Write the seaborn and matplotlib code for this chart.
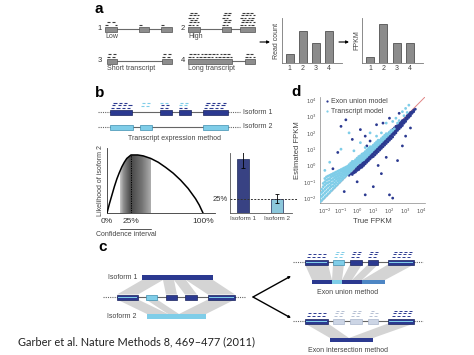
import numpy as np
import pandas as pd
import matplotlib
matplotlib.use("Agg")
import matplotlib.pyplot as plt
import matplotlib.transforms as mtransforms
from matplotlib.patches import Rectangle, Polygon
import seaborn as sns

# ------------------------------------------------------------------ data
genes = ["1", "2", "3", "4"]
read_counts = [9, 32, 20, 32]
fpkm_values = [6, 39, 20, 20]

ci_percent = [0, 2.6, 5.2, 7.7, 10.3, 12.9, 15.5, 18.0, 20.6, 25, 32.0, 37.8,
              45.6, 53.4, 61.1, 68.9, 76.7, 84.5, 92.2, 96.1, 100]
likelihood = [0, 0.165, 0.313, 0.456, 0.588, 0.698, 0.797, 0.874, 0.940, 1.0,
              1.0, 0.984, 0.940, 0.874, 0.786, 0.687, 0.566, 0.423, 0.247,
              0.137, 0]
ci_low, ci_high = 14, 46
ci_ticks = [0, 25, 100]
ci_labels = ["0%", "25%", "100%"]

isoforms = ["Isoform 1", "Isoform 2"]
isoform_share = [96, 25]
isoform_err = [16, 8]

# panel d: log10(True FPKM) columns and log10(Estimated FPKM) values
transcript_true = [-2.3, -2.2, -2.1, -2.0, -1.9, -1.8, -1.7, -1.6, -1.5, -1.4,
                   -1.3, -1.2, -1.1, -1.0, -0.9, -0.8, -0.7, -0.6, -0.5, -0.4,
                   -0.3, -0.2, -0.1, 0.0, 0.1, 0.2, 0.3, 0.4, 0.5, 0.6, 0.7,
                   0.8, 0.9, 1.0, 1.1, 1.2, 1.3, 1.4, 1.5, 1.6, 1.7, 1.8, 1.9,
                   2.0, 2.1, 2.2, 2.3]
transcript_est = [
    [-2.25, -2.0, -1.75], [-2.15, -1.9, -1.65, -1.45],
    [-2.05, -1.8, -1.55, -1.3, -1.1], [-1.95, -1.7, -1.45, -1.2, -1.0, -0.8],
    [-1.85, -1.6, -1.35, -1.1, -0.9, -0.7], [-1.75, -1.5, -1.25, -1.05, -0.85, -0.65],
    [-1.65, -1.4, -1.2, -1.0, -0.8, -0.6], [-1.55, -1.3, -1.1, -0.9, -0.7, -0.55],
    [-1.45, -1.25, -1.05, -0.85, -0.65, -0.5], [-1.35, -1.15, -0.95, -0.75, -0.6, -0.45],
    [-1.25, -1.05, -0.85, -0.7, -0.55, -0.4], [-1.15, -0.95, -0.8, -0.65, -0.5, -0.35],
    [-1.05, -0.9, -0.75, -0.6, -0.45, -0.3], [-0.95, -0.8, -0.65, -0.5, -0.35, -0.25],
    [-0.85, -0.7, -0.55, -0.4, -0.3, -0.2], [-0.75, -0.6, -0.45, -0.35, -0.25, -0.15],
    [-0.65, -0.5, -0.4, -0.3, -0.2, -0.1], [-0.55, -0.45, -0.35, -0.25, -0.15, -0.05],
    [-0.45, -0.35, -0.25, -0.15, -0.05, 0.05], [-0.35, -0.25, -0.15, -0.05, 0.05, 0.15],
    [-0.25, -0.15, -0.05, 0.05, 0.15, 0.25], [-0.15, -0.05, 0.05, 0.15, 0.25],
    [-0.05, 0.05, 0.15, 0.25, 0.35], [0.05, 0.15, 0.25, 0.35, 0.45],
    [0.15, 0.25, 0.35, 0.45, 0.55], [0.2, 0.3, 0.4, 0.5, 0.6],
    [0.3, 0.4, 0.5, 0.6, 0.7], [0.35, 0.45, 0.55, 0.65, 0.75],
    [0.45, 0.55, 0.65, 0.75, 0.85], [0.55, 0.65, 0.75, 0.85, 0.95],
    [0.65, 0.75, 0.85, 0.95, 1.05], [0.75, 0.85, 0.95, 1.05, 1.15],
    [0.85, 0.95, 1.05, 1.15], [0.95, 1.05, 1.15, 1.25], [1.05, 1.15, 1.25, 1.35],
    [1.15, 1.25, 1.35, 1.45], [1.25, 1.35, 1.45, 1.55], [1.35, 1.45, 1.55],
    [1.45, 1.55, 1.65], [1.55, 1.65, 1.75], [1.65, 1.75, 1.85], [1.75, 1.85, 1.95],
    [1.85, 1.95], [1.95, 2.05], [2.05, 2.15], [2.15], [2.25]]
transcript_out_true = [-0.5, 0.2, -1.0, 0.8, 1.2, -0.2, 0.5, 2.4, 2.8, 3.0, 1.8,
                       1.5, 2.2, -1.7, -2.0, 3.2, 2.6, 2.9, 2.5, 3.1]
transcript_out_est = [2.0, 1.4, 1.0, 2.0, 1.8, 0.9, 1.1, 2.9, 3.3, 3.5, 2.6,
                      2.0, 2.7, 0.2, -0.3, 3.7, 2.75, 3.05, 2.6, 3.25]

union_true = [-0.5, -0.4, -0.3, -0.2, -0.1, 0.0, 0.1, 0.2, 0.3, 0.4, 0.5, 0.6,
              0.7, 0.8, 0.9, 1.0, 1.1, 1.2, 1.3, 1.4, 1.5, 1.6, 1.7, 1.8, 1.9,
              2.0, 2.1, 2.2, 2.3, 2.4, 2.5, 2.6, 2.7, 2.8, 2.9, 3.0, 3.1, 3.2,
              3.3, 3.4, 3.5, 3.6]
union_est = [
    [-0.6], [-0.5], [-0.55, -0.45], [-0.45, -0.35], [-0.4, -0.3, -0.2],
    [-0.3, -0.2, -0.1], [-0.25, -0.15, -0.05], [-0.15, -0.05, 0.05],
    [-0.1, 0.0, 0.1, 0.2], [0.0, 0.1, 0.2, 0.3], [0.1, 0.2, 0.3, 0.4],
    [0.2, 0.3, 0.4, 0.5], [0.3, 0.4, 0.5, 0.6], [0.4, 0.5, 0.6, 0.7],
    [0.5, 0.6, 0.7, 0.8], [0.55, 0.7, 0.8, 0.9], [0.65, 0.8, 0.9, 1.0, 1.1],
    [0.75, 0.9, 1.0, 1.1, 1.2], [0.85, 1.0, 1.1, 1.2, 1.3],
    [0.95, 1.1, 1.2, 1.3, 1.4], [1.05, 1.2, 1.3, 1.4, 1.5],
    [1.15, 1.3, 1.4, 1.5, 1.6], [1.25, 1.4, 1.5, 1.6, 1.7],
    [1.35, 1.5, 1.6, 1.7, 1.8], [1.45, 1.6, 1.7, 1.8, 1.9],
    [1.55, 1.7, 1.8, 1.9, 2.0], [1.65, 1.8, 1.9, 2.0, 2.1],
    [1.75, 1.9, 2.0, 2.1, 2.2], [1.9, 2.0, 2.1, 2.2, 2.3],
    [2.0, 2.1, 2.2, 2.3, 2.4], [2.15, 2.25, 2.35, 2.45], [2.25, 2.35, 2.45, 2.55],
    [2.35, 2.45, 2.55, 2.65], [2.45, 2.55, 2.65, 2.75], [2.6, 2.7, 2.8],
    [2.7, 2.8, 2.9], [2.85, 2.95, 3.05], [2.95, 3.05, 3.15], [3.05, 3.15, 3.25],
    [3.2, 3.3], [3.3, 3.4], [3.45]]
union_out_true = [-1.5, -1.0, -0.7, -0.3, 0.2, 0.5, -1.2, 0.8, 1.2, 1.0, 1.5,
                  2.0, 2.5, 2.2, 0.5, 3.0, 2.8, 1.8, 0.0, -0.8, 3.3, 1.3, 2.6,
                  1.6, 2.0, 0.6]
union_out_est = [-0.2, 2.4, 2.8, 1.6, 2.2, 1.8, 0.8, 1.5, 2.5, -1.3, -0.5,
                 -1.8, 0.3, -2.0, -1.8, 1.8, 1.2, 0.5, -1.0, -1.6, 2.3, 0.0,
                 3.2, 2.6, 2.9, 1.2]
fpkm_decades = [-2, -1, 0, 1, 2, 3, 4]

# ------------------------------------------------------------------ style
sns.set_style("white")
plt.rcParams["font.family"] = ["Liberation Sans", "DejaVu Sans"]

W, H = 474, 355
DARK = "#2b3990"
DARK_E = "#18225e"
LIGHT = "#7fcde8"
LIGHT_E = "#3f8fb0"
GRAYTXT = "#444444"

fig = plt.figure(figsize=(W / 100, H / 100), dpi=100)
canvas = fig.add_axes([0, 0, 1, 1])
canvas.set_xlim(0, W)
canvas.set_ylim(H, 0)
canvas.axis("off")


def px_axes(l, t, r, b):
    return fig.add_axes([l / W, 1 - b / H, (r - l) / W, (b - t) / H])


def exon(x0, x1, yc, fc, ec, h=5, lw=0.5, z=3):
    canvas.add_patch(Rectangle((x0, yc - h / 2), x1 - x0, h, fc=fc, ec=ec,
                               lw=lw, zorder=z))


def two_tone(x0, x1, yc, h=5):
    exon(x0, x1, yc, DARK, DARK_E, h=h)
    exon(x0 + 1.2, x1 - 1.2, yc + 0.4, LIGHT, "none", h=1.6, lw=0, z=4)


def gene_line(x0, x1, yc, d0=None, d1=None, color="#666666"):
    canvas.plot([x0, x1], [yc, yc], color=color, lw=0.8, zorder=2)
    if d0 is not None:
        canvas.plot([d0, x0], [yc, yc], color=color, lw=0.8, ls=(0, (1, 1)), zorder=2)
    if d1 is not None:
        canvas.plot([x1, d1], [yc, yc], color=color, lw=0.8, ls=(0, (1, 1)), zorder=2)


def reads(x0, x1, ybase, rows, color, seg=3.0, gap=1.8, spacing=2.4, lw=0.8):
    for r in range(rows):
        y = ybase - r * spacing
        xs = x0 + (r % 3) * 1.2
        while xs + seg <= x1 + 0.5:
            canvas.plot([xs, xs + seg], [y, y], color=color, lw=lw,
                        solid_capstyle="butt", zorder=3)
            xs += seg + gap


def label(x, y, s, size=5, ha="left", color=GRAYTXT, **kw):
    canvas.text(x, y, s, fontsize=size, ha=ha, va="center", color=color, **kw)


def panel_letter(x, y, s):
    canvas.text(x, y, s, fontsize=11, fontweight="bold", ha="left",
                va="center", color="black")


def arrow(x0, y0, x1, y1, lw=0.8, ms=4):
    canvas.annotate("", xy=(x1, y1), xytext=(x0, y0),
                    arrowprops=dict(arrowstyle="-|>", lw=lw, color="black",
                                    mutation_scale=ms, shrinkA=0, shrinkB=0))


# ------------------------------------------------------------------ panel a diagrams
panel_letter(95, 9, "a")
EX_G, EX_GE = "#8d8d8d", "#505050"
READ_G = "#3c3c3c"
a_genes = [
    ("1", 100, 29, [(105, 117), (139, 149), (161, 172)], [1, 1, 1], 7.0, "Low"),
    ("2", 183, 29, [(188, 200), (222, 231), (240, 255)], [6, 6, 6], 1.2, "High"),
    ("3", 100, 61, [(107, 117), (162, 172)], [2, 2], 2.5, "Short transcript"),
    ("4", 183, 61, [(188, 232), (245, 255)], [2, 2], 1.2, "Long transcript"),
]
for num, nx, yc, exs, rws, gp, txt in a_genes:
    label(nx, yc, num, size=5.5, ha="center", color="#333333")
    gene_line(exs[0][1], exs[-1][0], yc, color="#6a6a6a")
    for (x0, x1), rr in zip(exs, rws):
        exon(x0, x1, yc, EX_G, EX_GE)
        reads(x0, x1, yc - 4.2, rr, READ_G, gap=gp, seg=2.6)
    label(exs[0][0], yc + 8, txt, size=5)
reads(107, 117, 29 - 6.6, 1, READ_G, gap=2.5, seg=2.6)

arrow(260, 42, 270, 42)
arrow(339, 42, 349, 42)

# ------------------------------------------------------------------ panel a bars
for (l, r), vals, ylab in [((282, 342), read_counts, "Read count"),
                           ((362, 423), fpkm_values, "FPKM")]:
    ax = px_axes(l, 18, r, 63)
    sns.barplot(x=genes, y=vals, color="#8c8c8c", width=0.62,
                edgecolor="#3a3a3a", linewidth=0.5, ax=ax)
    ax.set_xlim(-0.6, 3.98)
    ax.set_ylim(0, 45)
    ax.set_yticks([])
    ax.set_ylabel(ylab, fontsize=5, labelpad=1.5, color=GRAYTXT)
    ax.set_xlabel("")
    ax.tick_params(axis="x", length=0, labelsize=5, pad=1.5, colors=GRAYTXT)
    for s in ["top", "right"]:
        ax.spines[s].set_visible(False)
    for s in ["left", "bottom"]:
        ax.spines[s].set_color("#777777")
        ax.spines[s].set_linewidth(0.6)
    ax.patch.set_alpha(0)

# ------------------------------------------------------------------ panel b diagram
panel_letter(95, 93, "b")
gene_line(110, 228, 112, d0=98, d1=240)
for x0, x1 in [(110, 132), (160, 172), (179, 191), (203, 228)]:
    exon(x0, x1, 112, DARK, DARK_E)
gene_line(110, 228, 127, d0=98, d1=240)
for x0, x1 in [(110, 133), (140, 152), (203, 228)]:
    exon(x0, x1, 127, LIGHT, LIGHT_E)
reads(111, 132, 107.5, 3, DARK, seg=3.2, gap=2.2, spacing=2.5)
reads(141, 152, 105.5, 2, LIGHT, seg=3.0, gap=2.2, spacing=2.5)
reads(160, 172, 107.5, 2, DARK, seg=3.0, gap=2.0, spacing=2.5)
reads(160, 172, 102.5, 1, LIGHT, seg=3.0, gap=2.0, spacing=2.5)
reads(179, 191, 107.5, 1, DARK, seg=3.0, gap=2.0, spacing=2.5)
reads(179, 191, 105.0, 2, LIGHT, seg=3.0, gap=2.0, spacing=2.5)
reads(204, 228, 107.5, 3, DARK, seg=3.2, gap=2.2, spacing=2.5)
label(243, 112, "Isoform 1", size=5)
label(243, 127, "Isoform 2", size=5)
label(175, 139, "Transcript expression method", size=5, ha="center")

# ------------------------------------------------------------------ likelihood curve
axl = px_axes(107, 148, 215, 213)
lk = pd.DataFrame({"ci": ci_percent, "lik": likelihood})
sns.lineplot(data=lk, x="ci", y="lik", color="black", lw=1.1, ax=axl,
             zorder=5, sort=False)
axl.set_xlim(0, 112.5)
axl.set_ylim(0, 1.12)
under = Polygon(np.column_stack([ci_percent, likelihood]), closed=True,
                fc="none", ec="none")
axl.add_patch(under)
tt = np.linspace(0, 1, 200)
shade = np.interp(tt, [0, 0.12, 0.35, 0.7, 1.0], [0.78, 0.55, 0.28, 0.45, 0.68])
im = axl.imshow(shade[None, :], extent=[ci_low, ci_high, 0, 1.05],
                aspect="auto", cmap="gray", vmin=0, vmax=1, zorder=2)
im.set_clip_path(under)
axl.vlines(25, 0, 1.0, colors="black", linestyles=(0, (1.2, 1.2)), lw=0.7, zorder=6)
axl.set_xticks(ci_ticks)
axl.set_xticklabels(ci_labels)
axl.set_xticks(list(range(0, 101, 7)), minor=True)
axl.tick_params(axis="x", which="major", labelsize=6, length=2.5,
                direction="inout", pad=2, colors="#333333")
axl.tick_params(axis="x", which="minor", length=2.5, direction="inout",
                width=0.5, color="#333333")
axl.set_yticks([])
axl.set_xlabel("")
axl.set_ylabel("Likelihood of isoform 2", fontsize=5, labelpad=2.5, color=GRAYTXT)
for s in ["top", "right"]:
    axl.spines[s].set_visible(False)
for s in ["left", "bottom"]:
    axl.spines[s].set_color("#333333")
    axl.spines[s].set_linewidth(0.6)
axl.patch.set_alpha(0)
blend = mtransforms.blended_transform_factory(axl.transData, axl.transAxes)
axl.plot([ci_low, ci_high], [-0.246, -0.246], color="#555555", lw=0.7,
         transform=blend, clip_on=False)
label(126, 234, "Confidence interval", size=5, ha="center")

# ------------------------------------------------------------------ isoform bars
axi = px_axes(230, 153, 297, 213)
sns.barplot(x=isoforms, y=isoform_share, hue=isoforms, palette=[DARK, LIGHT],
            legend=False, width=0.35, edgecolor="#1c2a5a", linewidth=0.5, ax=axi)
axi.errorbar(x=[0, 1], y=isoform_share, yerr=isoform_err, fmt="none",
             ecolor="black", elinewidth=0.6, capsize=1.5, capthick=0.6, zorder=5)
axi.set_xlim(-0.38, 1.6)
axi.set_ylim(0, 107)
axi.axhline(25, color="#333333", lw=0.7, ls=(0, (2, 1.5)), zorder=4)
axi.set_yticks([25])
axi.set_yticklabels(["25%"])
axi.tick_params(axis="y", labelsize=5.5, length=0, pad=1.5, colors="#333333")
axi.tick_params(axis="x", labelsize=4.5, length=0, pad=2, colors=GRAYTXT)
axi.set_xlabel("")
axi.set_ylabel("")
for s in ["top", "right"]:
    axi.spines[s].set_visible(False)
for s in ["left", "bottom"]:
    axi.spines[s].set_color("#555555")
    axi.spines[s].set_linewidth(0.6)
axi.spines["bottom"].set_bounds(-0.38, 1.45)
axi.patch.set_alpha(0)

# ------------------------------------------------------------------ panel d scatter
panel_letter(291, 92, "d")
rows = []
for x, ys in zip(union_true, union_est):
    rows += [(x, y, "Exon union model") for y in ys]
rows += [(x, y, "Exon union model") for x, y in zip(union_out_true, union_out_est)]
for x, ys in zip(transcript_true, transcript_est):
    rows += [(x, y, "Transcript model") for y in ys]
rows += [(x, y, "Transcript model") for x, y in
         zip(transcript_out_true, transcript_out_est)]
sc = pd.DataFrame(rows, columns=["true_log", "est_log", "model"])
sc["True FPKM"] = 10.0 ** sc["true_log"]
sc["Estimated FPKM"] = 10.0 ** sc["est_log"]

axd = px_axes(320, 97, 425, 203)
lo, hi = 10 ** -2.3, 10 ** 4.2
axd.plot([lo, hi], [lo, hi], color="#e08585", lw=0.7, zorder=1)
sns.scatterplot(data=sc, x="True FPKM", y="Estimated FPKM", hue="model",
                palette={"Exon union model": DARK, "Transcript model": LIGHT},
                s=4, linewidth=0, ax=axd, zorder=3)
axd.set(xscale="log", yscale="log")
axd.set_xlim(lo, hi)
axd.set_ylim(lo, hi)
ticks = [10.0 ** k for k in fpkm_decades]
axd.set_xticks(ticks)
axd.set_yticks(ticks)
axd.set_xticklabels([f"$10^{{{k}}}$" for k in fpkm_decades])
axd.set_yticklabels([f"$10^{{{k}}}$" for k in fpkm_decades])
axd.minorticks_off()
axd.tick_params(labelsize=3.8, length=1.5, width=0.4, pad=1, colors="#555555")
axd.set_xlabel("True FPKM", fontsize=5.5, labelpad=1.5, color=GRAYTXT)
axd.set_ylabel("Estimated FPKM", fontsize=5.5, labelpad=1.5, color=GRAYTXT)
for s in ["top", "right"]:
    axd.spines[s].set_visible(False)
for s in ["left", "bottom"]:
    axd.spines[s].set_color("#888888")
    axd.spines[s].set_linewidth(0.5)
leg = axd.legend(loc="upper left", frameon=False, fontsize=5, markerscale=0.8,
                 handletextpad=0.1, borderaxespad=0.1, labelspacing=0.4,
                 handlelength=1.0, bbox_to_anchor=(0.0, 1.02))
for t in leg.get_texts():
    t.set_color(GRAYTXT)
axd.patch.set_alpha(0)

# ------------------------------------------------------------------ panel c diagrams
panel_letter(98, 247, "c")
GRAYPOLY = "#d4d4d4"
c_exons = [(117, 138), (146, 157), (166, 177), (185, 197), (208, 235)]
iso1_parts = [(142, 163, 0), (163, 174, 2), (174, 186, 3), (186, 213, 4)]
for b0, b1, ei in iso1_parts:
    e0, e1 = c_exons[ei]
    canvas.add_patch(Polygon([(b0, 280), (b1, 280), (e1, 294.5), (e0, 294.5)],
                             fc=GRAYPOLY, ec="none", zorder=1))
canvas.add_patch(Rectangle((142, 275), 71, 5, fc=DARK, ec="none", zorder=3))
iso2_parts = [(147, 168, 0), (168, 179, 1), (179, 206, 4)]
for b0, b1, ei in iso2_parts:
    e0, e1 = c_exons[ei]
    canvas.add_patch(Polygon([(e0, 299.5), (e1, 299.5), (b1, 314), (b0, 314)],
                             fc=GRAYPOLY, ec="none", zorder=1))
canvas.add_patch(Rectangle((147, 314), 59, 5, fc=LIGHT, ec="none", zorder=3))
label(137, 277.5, "Isoform 1", size=5, ha="right")
label(137, 316.5, "Isoform 2", size=5, ha="right")
gene_line(117, 235, 297, d0=103, d1=246)
two_tone(*c_exons[0], 297)
exon(*c_exons[1], 297, LIGHT, LIGHT_E)
exon(*c_exons[2], 297, DARK, DARK_E)
exon(*c_exons[3], 297, DARK, DARK_E)
two_tone(*c_exons[4], 297)
arrow(253, 297, 291, 276, lw=1.0, ms=3)
arrow(253, 297, 291, 318, lw=1.0, ms=3)

r_exons = [(305, 328), (333, 344), (350, 362), (368, 378), (388, 414)]
MID = "#4d86c4"
FADE, FADE_E = "#ccd5e5", "#aab6cc"
union_bar = [(312, 332, DARK), (332, 342, LIGHT), (342, 352, DARK),
             (352, 362, DARK), (362, 385, MID)]
for (e0, e1), (b0, b1, col) in zip(r_exons, union_bar):
    canvas.add_patch(Polygon([(e0, 264.5), (e1, 264.5), (b1, 280), (b0, 280)],
                             fc=GRAYPOLY, ec="none", zorder=1))
    canvas.add_patch(Rectangle((b0, 280), b1 - b0, 4, fc=col, ec="none", zorder=3))
gene_line(305, 414, 262, d0=293, d1=423)
two_tone(*r_exons[0], 262)
exon(*r_exons[1], 262, LIGHT, LIGHT_E)
exon(*r_exons[2], 262, DARK, DARK_E)
exon(*r_exons[3], 262, DARK, DARK_E)
two_tone(*r_exons[4], 262)
reads(307, 326, 257, 2, DARK, seg=3.0, gap=2.0, spacing=2.6, lw=0.7)
reads(334, 344, 257, 3, LIGHT, seg=3.0, gap=2.0, spacing=2.6, lw=0.7)
reads(351, 362, 257, 3, DARK, seg=3.0, gap=2.0, spacing=2.6, lw=0.7)
reads(368, 378, 257, 3, DARK, seg=3.0, gap=2.0, spacing=2.6, lw=0.7)
reads(392, 412, 257, 3, DARK, seg=3.0, gap=2.0, spacing=2.6, lw=0.7)
label(348, 292, "Exon union method", size=5, ha="center")

inter_bar = [(330, 349, 0), (349, 373, 4)]
for b0, b1, ei in inter_bar:
    e0, e1 = r_exons[ei]
    canvas.add_patch(Polygon([(e0, 323.5), (e1, 323.5), (b1, 338), (b0, 338)],
                             fc=GRAYPOLY, ec="none", zorder=1))
canvas.add_patch(Rectangle((330, 338), 43, 4, fc=DARK, ec="none", zorder=3))
gene_line(305, 414, 321, d0=293, d1=423)
two_tone(*r_exons[0], 321)
for k in (1, 2, 3):
    exon(*r_exons[k], 321, FADE, FADE_E)
two_tone(*r_exons[4], 321)
reads(307, 326, 316, 2, DARK, seg=3.0, gap=2.0, spacing=2.6, lw=0.7)
for k in (1, 2, 3):
    reads(r_exons[k][0] + 1, r_exons[k][1], 316, 3, FADE_E, seg=3.0, gap=2.0,
          spacing=2.6, lw=0.6)
reads(392, 412, 316, 3, DARK, seg=3.0, gap=2.0, spacing=2.6, lw=0.7)
label(348, 351, "Exon intersection method", size=5, ha="center")

# ------------------------------------------------------------------ citation
canvas.text(18, 342, "Garber et al. Nature Methods 8, 469\u2013477 (2011)",
            fontsize=7.9, fontfamily=["Lato", "DejaVu Sans"], ha="left",
            va="center", color="#222222")

fig.savefig("out.png", dpi=100)
